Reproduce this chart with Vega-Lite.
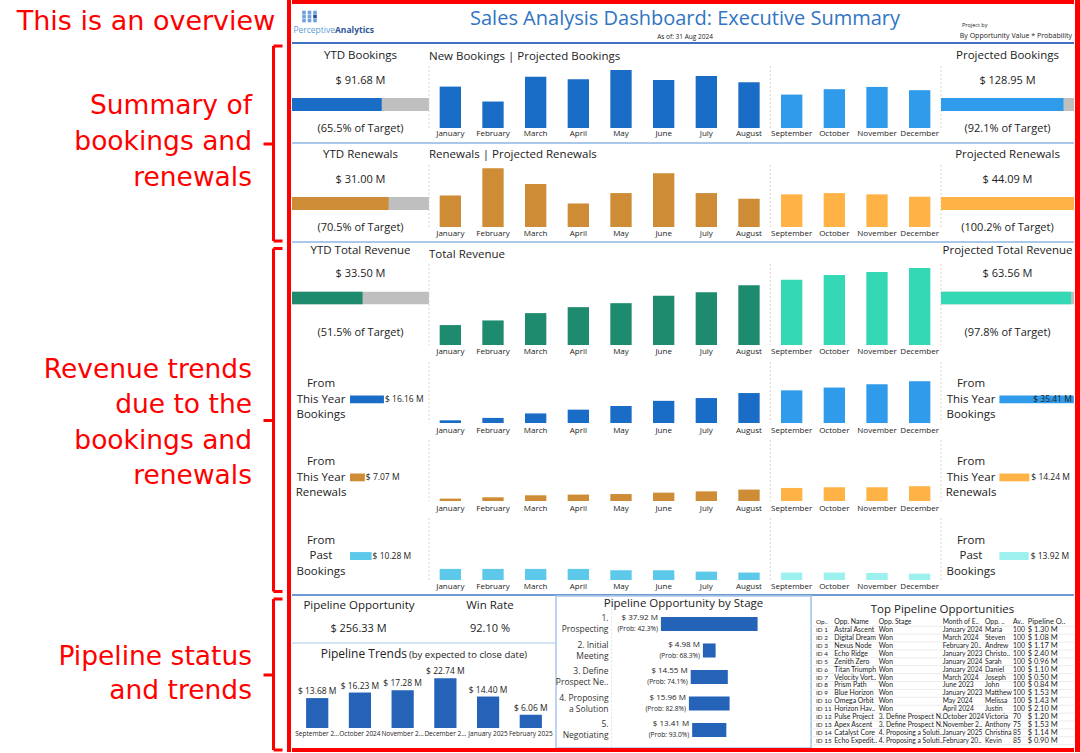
{
"$schema":"https://vega.github.io/schema/vega-lite/v6.json",
"padding":0,
"background":"white",
"datasets":{
 "monthly":[
  {"month":"January","period":"Actual","bookings":10.21,"renewals":3.19,"revenue":2.10,"revBookings":0.35,"revRenewals":0.31,"revPast":1.43},
  {"month":"February","period":"Actual","bookings":6.53,"renewals":5.94,"revenue":2.59,"revBookings":0.66,"revRenewals":0.48,"revPast":1.43},
  {"month":"March","period":"Actual","bookings":12.66,"renewals":4.34,"revenue":3.36,"revBookings":1.24,"revRenewals":0.74,"revPast":1.43},
  {"month":"April","period":"Actual","bookings":12.02,"renewals":2.38,"revenue":3.99,"revBookings":1.73,"revRenewals":0.83,"revPast":1.43},
  {"month":"May","period":"Actual","bookings":14.30,"renewals":3.43,"revenue":4.41,"revBookings":2.20,"revRenewals":0.90,"revPast":1.26},
  {"month":"June","period":"Actual","bookings":11.85,"renewals":5.43,"revenue":5.18,"revBookings":2.87,"revRenewals":1.08,"revPast":1.26},
  {"month":"July","period":"Actual","bookings":12.83,"renewals":3.43,"revenue":5.57,"revBookings":3.23,"revRenewals":1.25,"revPast":1.08},
  {"month":"August","period":"Actual","bookings":11.28,"renewals":2.86,"revenue":6.30,"revBookings":3.88,"revRenewals":1.48,"revPast":0.96},
  {"month":"September","period":"Projected","bookings":8.24,"renewals":3.30,"revenue":6.88,"revBookings":4.23,"revRenewals":1.69,"revPast":0.96},
  {"month":"October","period":"Projected","bookings":9.57,"renewals":3.43,"revenue":7.37,"revBookings":4.59,"revRenewals":1.78,"revPast":0.96},
  {"month":"November","period":"Projected","bookings":10.13,"renewals":3.30,"revenue":7.69,"revBookings":5.02,"revRenewals":1.78,"revPast":0.90},
  {"month":"December","period":"Projected","bookings":9.33,"renewals":3.06,"revenue":8.12,"revBookings":5.41,"revRenewals":1.92,"revPast":0.82}
 ]
},
"spacing":0,
"hconcat":[
 {"vconcat":[
   {"width":287,"height":40,"data":{"values":[{"note":"This is an overview"}]},"mark":{"type":"text","font":"DejaVu Sans","fontSize":27,"color":"#FF0000","dx":2.5,"dy":2},"encoding":{"text":{"field":"note"}}},
   {"width":287,"height":195,"data":{"values":[{"note":"Summary of\nbookings and\nrenewals"}]},"layer":[
     {"mark":{"type":"text","font":"DejaVu Sans","fontSize":26.5,"color":"#FF0000","align":"right","lineBreak":"\n","lineHeight":35.8,"dx":108.5,"dy":-36.8},"encoding":{"text":{"field":"note"}}},
     {"mark":{"type":"point","opacity":0},"encoding":{"y":{"datum":0.5,"type":"quantitative","scale":{"domain":[0,1],"nice":false},"axis":{"orient":"right","offset":-14,"values":[0,0.5,1],"labels":false,"title":null,"grid":false,"domain":true,"domainColor":"#FF0000","domainWidth":3,"ticks":true,"tickColor":"#FF0000","tickWidth":3,"tickSize":{"condition":{"test":"datum.value === 0.5","value":-10},"value":9}}}}}
   ]},
   {"width":287,"height":343,"data":{"values":[{"note":"Revenue trends\ndue to the\nbookings and\nrenewals"}]},"layer":[
     {"mark":{"type":"text","font":"DejaVu Sans","fontSize":26.5,"color":"#FF0000","align":"right","lineBreak":"\n","lineHeight":35.5,"dx":108.5,"dy":-50},"encoding":{"text":{"field":"note"}}},
     {"mark":{"type":"point","opacity":0},"encoding":{"y":{"datum":0.5,"type":"quantitative","scale":{"domain":[0,1],"nice":false},"axis":{"orient":"right","offset":-14,"values":[0,0.5,1],"labels":false,"title":null,"grid":false,"domain":true,"domainColor":"#FF0000","domainWidth":3,"ticks":true,"tickColor":"#FF0000","tickWidth":3,"tickSize":{"condition":{"test":"datum.value === 0.5","value":-10},"value":9}}}}}
   ]},
   {"width":287,"height":151,"data":{"values":[{"note":"Pipeline status\nand trends"}]},"layer":[
     {"mark":{"type":"text","font":"DejaVu Sans","fontSize":26.5,"color":"#FF0000","align":"right","lineBreak":"\n","lineHeight":34,"dx":108.5,"dy":-17},"encoding":{"text":{"field":"note"}}},
     {"mark":{"type":"point","opacity":0},"encoding":{"y":{"datum":0.5,"type":"quantitative","scale":{"domain":[0,1],"nice":false},"axis":{"orient":"right","offset":-14,"values":[0,0.5,1],"labels":false,"title":null,"grid":false,"domain":true,"domainColor":"#FF0000","domainWidth":3,"ticks":true,"tickColor":"#FF0000","tickWidth":3,"tickSize":{"condition":{"test":"datum.value === 0.5","value":-10},"value":9}}}}}
   ]}
  ],"spacing":3.5},
 {"width":4,"height":752,"view":{"fill":"#FF0000"},"data":{"values":[]},"mark":"point"},
 {"concat":[
   {"width":137,"height":4,"view":{"fill":"#FF0000"},"data":{"values":[]},"mark":"point"},
   {"width":512,"height":4,"view":{"fill":"#FF0000"},"data":{"values":[]},"mark":"point"},
   {"width":133,"height":4,"view":{"fill":"#FF0000"},"data":{"values":[]},"mark":"point"},

   {"width":137,"height":38,"layer":[
     {"data":{"values":[{"r":0,"c":0},{"r":0,"c":1},{"r":0,"c":2},{"r":1,"c":0},{"r":1,"c":1},{"r":1,"c":2},{"r":2,"c":0},{"r":2,"c":1},{"r":2,"c":2}]},
      "mark":{"type":"square","size":13,"filled":true,"opacity":1},
      "encoding":{"x":{"field":"c","type":"quantitative","title":null,"scale":{"domain":[-2.18,22.73],"nice":false,"zero":false},"axis":null},
                  "y":{"field":"r","type":"quantitative","title":null,"scale":{"domain":[-2.125,7.375],"nice":false,"zero":false,"reverse":true},"axis":null},
                  "color":{"condition":{"test":"datum.r === 1 && datum.c === 2","value":"#1F4E9A"},"value":"#6FA0DC"}}},
     {"data":{"values":[{"a":"Perceptive","b":"Analytics"}]},"layer":[
       {"mark":{"type":"text","align":"right","dx":-25.5,"dy":7,"fontSize":8.5,"color":"#5B9BD5"},"encoding":{"text":{"field":"a"}}},
       {"mark":{"type":"text","align":"left","dx":-25.5,"dy":7,"fontSize":8.5,"fontWeight":"bold","color":"#2F5597"},"encoding":{"text":{"field":"b"}}}
     ]}
   ]},
   {"width":512,"height":38,"data":{"values":[{"title":"Sales Analysis Dashboard: Executive Summary","asof":"As of: 31 Aug 2024"}]},"layer":[
     {"mark":{"type":"text","dy":-4,"fontSize":20,"color":"#2F75C4"},"encoding":{"text":{"field":"title"}}},
     {"mark":{"type":"text","dy":13.5,"fontSize":6.5},"encoding":{"text":{"field":"asof"}}}
   ]},
   {"width":133,"height":38,"data":{"values":[{"p":"Project by","b":"By Opportunity Value * Probability"}]},"layer":[
     {"mark":{"type":"text","align":"left","dx":-45.5,"dy":2,"fontSize":5.5},"encoding":{"text":{"field":"p"}}},
     {"mark":{"type":"text","align":"right","dx":64.5,"dy":12.5,"fontSize":7},"encoding":{"text":{"field":"b"}}}
   ]},

   {"width":137,"height":2,"view":{"fill":"#3F72C0"},"data":{"values":[]},"mark":"point"},
   {"width":512,"height":2,"view":{"fill":"#3F72C0"},"data":{"values":[]},"mark":"point"},
   {"width":133,"height":2,"view":{"fill":"#3F72C0"},"data":{"values":[]},"mark":"point"},

   {"width":0,"height":22,"data":{"values":[]},"mark":"point"},
   {"width":0,"height":22,"data":{"values":[]},"mark":"point"},
   {"width":0,"height":22,"data":{"values":[]},"mark":"point"},

   {"width":137,"height":62,"data":{"values":[{"label":"YTD Bookings","amount":"$ 91.68 M","pct":65.5,"pctLabel":"(65.5% of Target)"}]},"layer":[
     {"mark":{"type":"bar","color":"#BFBFBF"},"encoding":{"x":{"datum":100,"type":"quantitative","scale":{"domain":[0,100],"nice":false,"clamp":true},"axis":null},"y":{"datum":"bar","type":"nominal","scale":{"paddingInner":0.469,"paddingOuter":1,"align":0.653},"axis":null}}},
     {"mark":{"type":"bar","color":"#1A6DC6"},"encoding":{"x":{"field":"pct","type":"quantitative"},"y":{"datum":"bar","type":"nominal"}}},
     {"mark":{"type":"text","dy":-41,"fontSize":11.5},"encoding":{"text":{"field":"label"}}},
     {"mark":{"type":"text","dy":-16,"fontSize":11},"encoding":{"text":{"field":"amount"}}},
     {"mark":{"type":"text","dy":32,"fontSize":11},"encoding":{"text":{"field":"pctLabel"}}}
   ]},
   {"width":512,"height":62,"title":{"text":"New Bookings | Projected Bookings","anchor":"start","frame":"group","baseline":"middle","offset":-3,"fontSize":11.5},"data":{"name":"monthly"},"layer":[
     {"mark":{"type":"bar","width":{"band":0.5}},"encoding":{
       "x":{"field":"month","type":"ordinal","title":null,"scale":{"domain":["January","February","March","April","May","June","July","August","September","October","November","December"],"paddingInner":0,"paddingOuter":0},"axis":{"labelFontSize":8,"labelPadding":1}},
       "y":{"field":"bookings","type":"quantitative","title":null,"scale":{"domain":[0,15.29],"nice":false},"axis":null},
       "color":{"condition":{"test":"datum.period === 'Actual'","value":"#1A6DC6"},"value":"#2F9BEA"}}},
     {"data":{"values":[{"month":"January"},{"month":"September"}]},"mark":{"type":"rule","strokeDash":[2,2],"color":"#DCD3C6"},"encoding":{"x":{"field":"month","type":"ordinal","title":null,"bandPosition":0}}},
     {"data":{"values":[{"month":"December"}]},"mark":{"type":"rule","strokeDash":[2,2],"color":"#DCD3C6"},"encoding":{"x":{"field":"month","type":"ordinal","title":null,"bandPosition":1}}}
   ]},
   {"width":133,"height":62,"data":{"values":[{"label":"Projected Bookings","amount":"$ 128.95 M","pct":92.1,"pctLabel":"(92.1% of Target)"}]},"layer":[
     {"mark":{"type":"bar","color":"#BFBFBF"},"encoding":{"x":{"datum":100,"type":"quantitative","scale":{"domain":[0,100],"nice":false,"clamp":true},"axis":null},"y":{"datum":"bar","type":"nominal","scale":{"paddingInner":0.469,"paddingOuter":1,"align":0.653},"axis":null}}},
     {"mark":{"type":"bar","color":"#2F9BEA"},"encoding":{"x":{"field":"pct","type":"quantitative"},"y":{"datum":"bar","type":"nominal"}}},
     {"mark":{"type":"text","dy":-41,"fontSize":11.5},"encoding":{"text":{"field":"label"}}},
     {"mark":{"type":"text","dy":-16,"fontSize":11},"encoding":{"text":{"field":"amount"}}},
     {"mark":{"type":"text","dy":32,"fontSize":11},"encoding":{"text":{"field":"pctLabel"}}}
   ]},

   {"width":0,"height":14,"data":{"values":[]},"mark":"point"},
   {"width":0,"height":14,"data":{"values":[]},"mark":"point"},
   {"width":0,"height":14,"data":{"values":[]},"mark":"point"},

   {"width":137,"height":2,"view":{"fill":"#A9C8EA"},"data":{"values":[]},"mark":"point"},
   {"width":512,"height":2,"view":{"fill":"#A9C8EA"},"data":{"values":[]},"mark":"point"},
   {"width":133,"height":2,"view":{"fill":"#A9C8EA"},"data":{"values":[]},"mark":"point"},

   {"width":0,"height":21,"data":{"values":[]},"mark":"point"},
   {"width":0,"height":21,"data":{"values":[]},"mark":"point"},
   {"width":0,"height":21,"data":{"values":[]},"mark":"point"},

   {"width":137,"height":62,"data":{"values":[{"label":"YTD Renewals","amount":"$ 31.00 M","pct":70.5,"pctLabel":"(70.5% of Target)"}]},"layer":[
     {"mark":{"type":"bar","color":"#BFBFBF"},"encoding":{"x":{"datum":100,"type":"quantitative","scale":{"domain":[0,100],"nice":false,"clamp":true},"axis":null},"y":{"datum":"bar","type":"nominal","scale":{"paddingInner":0.469,"paddingOuter":1,"align":0.653},"axis":null}}},
     {"mark":{"type":"bar","color":"#CD8C35"},"encoding":{"x":{"field":"pct","type":"quantitative"},"y":{"datum":"bar","type":"nominal"}}},
     {"mark":{"type":"text","dy":-41,"fontSize":11.5},"encoding":{"text":{"field":"label"}}},
     {"mark":{"type":"text","dy":-16,"fontSize":11},"encoding":{"text":{"field":"amount"}}},
     {"mark":{"type":"text","dy":32,"fontSize":11},"encoding":{"text":{"field":"pctLabel"}}}
   ]},
   {"width":512,"height":62,"title":{"text":"Renewals | Projected Renewals","anchor":"start","frame":"group","baseline":"middle","offset":-2,"fontSize":11.5},"data":{"name":"monthly"},"layer":[
     {"mark":{"type":"bar","width":{"band":0.5}},"encoding":{
       "x":{"field":"month","type":"ordinal","title":null,"scale":{"domain":["January","February","March","April","May","June","July","August","September","October","November","December"],"paddingInner":0,"paddingOuter":0},"axis":{"labelFontSize":8,"labelPadding":2.5}},
       "y":{"field":"renewals","type":"quantitative","title":null,"scale":{"domain":[0,6.27],"nice":false},"axis":null},
       "color":{"condition":{"test":"datum.period === 'Actual'","value":"#CD8C35"},"value":"#FFB347"}}},
     {"data":{"values":[{"month":"January"},{"month":"September"}]},"mark":{"type":"rule","strokeDash":[2,2],"color":"#DCD3C6"},"encoding":{"x":{"field":"month","type":"ordinal","title":null,"bandPosition":0}}},
     {"data":{"values":[{"month":"December"}]},"mark":{"type":"rule","strokeDash":[2,2],"color":"#DCD3C6"},"encoding":{"x":{"field":"month","type":"ordinal","title":null,"bandPosition":1}}}
   ]},
   {"width":133,"height":62,"data":{"values":[{"label":"Projected Renewals","amount":"$ 44.09 M","pct":100.2,"pctLabel":"(100.2% of Target)"}]},"layer":[
     {"mark":{"type":"bar","color":"#BFBFBF"},"encoding":{"x":{"datum":100,"type":"quantitative","scale":{"domain":[0,100],"nice":false,"clamp":true},"axis":null},"y":{"datum":"bar","type":"nominal","scale":{"paddingInner":0.469,"paddingOuter":1,"align":0.653},"axis":null}}},
     {"mark":{"type":"bar","color":"#FFB347"},"encoding":{"x":{"field":"pct","type":"quantitative"},"y":{"datum":"bar","type":"nominal"}}},
     {"mark":{"type":"text","dy":-41,"fontSize":11.5},"encoding":{"text":{"field":"label"}}},
     {"mark":{"type":"text","dy":-16,"fontSize":11},"encoding":{"text":{"field":"amount"}}},
     {"mark":{"type":"text","dy":32,"fontSize":11},"encoding":{"text":{"field":"pctLabel"}}}
   ]},

   {"width":0,"height":14,"data":{"values":[]},"mark":"point"},
   {"width":0,"height":14,"data":{"values":[]},"mark":"point"},
   {"width":0,"height":14,"data":{"values":[]},"mark":"point"},

   {"width":137,"height":2,"view":{"fill":"#A9C8EA"},"data":{"values":[]},"mark":"point"},
   {"width":512,"height":2,"view":{"fill":"#A9C8EA"},"data":{"values":[]},"mark":"point"},
   {"width":133,"height":2,"view":{"fill":"#A9C8EA"},"data":{"values":[]},"mark":"point"},

   {"width":0,"height":21,"data":{"values":[]},"mark":"point"},
   {"width":0,"height":21,"data":{"values":[]},"mark":"point"},
   {"width":0,"height":21,"data":{"values":[]},"mark":"point"},

   {"width":137,"height":81,"data":{"values":[{"label":"YTD Total Revenue","amount":"$ 33.50 M","pct":51.5,"pctLabel":"(51.5% of Target)"}]},"layer":[
     {"mark":{"type":"bar","color":"#BFBFBF"},"encoding":{"x":{"datum":100,"type":"quantitative","scale":{"domain":[0,100],"nice":false,"clamp":true},"axis":null},"y":{"datum":"bar","type":"nominal","scale":{"paddingInner":0.632,"paddingOuter":1,"align":0.405},"axis":null}}},
     {"mark":{"type":"bar","color":"#1E8A6E"},"encoding":{"x":{"field":"pct","type":"quantitative"},"y":{"datum":"bar","type":"nominal"}}},
     {"mark":{"type":"text","dy":-53.5,"fontSize":11.5},"encoding":{"text":{"field":"label"}}},
     {"mark":{"type":"text","dy":-30.2,"fontSize":11},"encoding":{"text":{"field":"amount"}}},
     {"mark":{"type":"text","dy":28.2,"fontSize":11},"encoding":{"text":{"field":"pctLabel"}}}
   ]},
   {"width":512,"height":81,"title":{"text":"Total Revenue","anchor":"start","frame":"group","baseline":"middle","offset":-3,"fontSize":11.5},"data":{"name":"monthly"},"layer":[
     {"mark":{"type":"bar","width":{"band":0.5}},"encoding":{
       "x":{"field":"month","type":"ordinal","title":null,"scale":{"domain":["January","February","March","April","May","June","July","August","September","October","November","December"],"paddingInner":0,"paddingOuter":0},"axis":{"labelFontSize":8,"labelPadding":2.5}},
       "y":{"field":"revenue","type":"quantitative","title":null,"scale":{"domain":[0,8.54],"nice":false},"axis":null},
       "color":{"condition":{"test":"datum.period === 'Actual'","value":"#1E8A6E"},"value":"#34D8B4"}}},
     {"data":{"values":[{"month":"January"},{"month":"September"}]},"mark":{"type":"rule","strokeDash":[2,2],"color":"#DCD3C6"},"encoding":{"x":{"field":"month","type":"ordinal","title":null,"bandPosition":0}}},
     {"data":{"values":[{"month":"December"}]},"mark":{"type":"rule","strokeDash":[2,2],"color":"#DCD3C6"},"encoding":{"x":{"field":"month","type":"ordinal","title":null,"bandPosition":1}}}
   ]},
   {"width":133,"height":81,"data":{"values":[{"label":"Projected Total Revenue","amount":"$ 63.56 M","pct":97.8,"pctLabel":"(97.8% of Target)"}]},"layer":[
     {"mark":{"type":"bar","color":"#BFBFBF"},"encoding":{"x":{"datum":100,"type":"quantitative","scale":{"domain":[0,100],"nice":false,"clamp":true},"axis":null},"y":{"datum":"bar","type":"nominal","scale":{"paddingInner":0.632,"paddingOuter":1,"align":0.405},"axis":null}}},
     {"mark":{"type":"bar","color":"#34D8B4"},"encoding":{"x":{"field":"pct","type":"quantitative"},"y":{"datum":"bar","type":"nominal"}}},
     {"mark":{"type":"text","dy":-53.5,"fontSize":11.5},"encoding":{"text":{"field":"label"}}},
     {"mark":{"type":"text","dy":-30.2,"fontSize":11},"encoding":{"text":{"field":"amount"}}},
     {"mark":{"type":"text","dy":28.2,"fontSize":11},"encoding":{"text":{"field":"pctLabel"}}}
   ]},

   {"width":0,"height":17,"data":{"values":[]},"mark":"point"},
   {"width":0,"height":17,"data":{"values":[]},"mark":"point"},
   {"width":0,"height":17,"data":{"values":[]},"mark":"point"},

   {"width":137,"height":61,"data":{"values":[{"line":"From\nThis Year\nBookings","value":16.16,"amount":"$ 16.16 M"}]},"layer":[
     {"mark":{"type":"text","lineBreak":"\n","lineHeight":15.5,"fontSize":11.5,"dx":-39.5,"dy":-8.5},"encoding":{"text":{"field":"line"}}},
     {"mark":{"type":"bar","color":"#1A6DC6"},"encoding":{"x":{"field":"value","type":"quantitative","scale":{"domain":[-27.6,37.6],"nice":false,"zero":false},"axis":null},"y":{"datum":"bar","type":"nominal","scale":{"paddingInner":0.707,"paddingOuter":1,"align":0.63},"axis":null}}},
     {"mark":{"type":"text","align":"left","dx":1,"fontSize":8.5},"encoding":{"x":{"field":"value","type":"quantitative"},"y":{"datum":"bar","type":"nominal"},"text":{"field":"amount"}}}
   ]},
   {"width":512,"height":61,"data":{"name":"monthly"},"layer":[
     {"mark":{"type":"bar","width":{"band":0.5}},"encoding":{
       "x":{"field":"month","type":"ordinal","title":null,"scale":{"domain":["January","February","March","April","May","June","July","August","September","October","November","December"],"paddingInner":0,"paddingOuter":0},"axis":{"labelFontSize":8,"labelPadding":3}},
       "y":{"field":"revBookings","type":"quantitative","title":null,"scale":{"domain":[0,7.9],"nice":false},"axis":null},
       "color":{"condition":{"test":"datum.period === 'Actual'","value":"#1A6DC6"},"value":"#2F9BEA"}}},
     {"data":{"values":[{"month":"January"},{"month":"September"}]},"mark":{"type":"rule","strokeDash":[2,2],"color":"#DCD3C6"},"encoding":{"x":{"field":"month","type":"ordinal","title":null,"bandPosition":0}}},
     {"data":{"values":[{"month":"December"}]},"mark":{"type":"rule","strokeDash":[2,2],"color":"#DCD3C6"},"encoding":{"x":{"field":"month","type":"ordinal","title":null,"bandPosition":1}}}
   ]},
   {"width":133,"height":61,"data":{"values":[{"line":"From\nThis Year\nBookings","value":35.41,"amount":"$ 35.41 M"}]},"layer":[
     {"mark":{"type":"text","lineBreak":"\n","lineHeight":15.5,"fontSize":11.5,"dx":-36.5,"dy":-8.5},"encoding":{"text":{"field":"line"}}},
     {"mark":{"type":"bar","color":"#2F9BEA"},"encoding":{"x":{"field":"value","type":"quantitative","scale":{"domain":[-27.8,35.5],"nice":false,"zero":false},"axis":null},"y":{"datum":"bar","type":"nominal","scale":{"paddingInner":0.707,"paddingOuter":1,"align":0.63},"axis":null}}},
     {"mark":{"type":"text","align":"right","dx":-2,"fontSize":8.5},"encoding":{"x":{"field":"value","type":"quantitative"},"y":{"datum":"bar","type":"nominal"},"text":{"field":"amount"}}}
   ]},

   {"width":0,"height":17,"data":{"values":[]},"mark":"point"},
   {"width":0,"height":17,"data":{"values":[]},"mark":"point"},
   {"width":0,"height":17,"data":{"values":[]},"mark":"point"},

   {"width":137,"height":61,"data":{"values":[{"line":"From\nThis Year\nRenewals","value":7.07,"amount":"$ 7.07 M"}]},"layer":[
     {"mark":{"type":"text","lineBreak":"\n","lineHeight":15.5,"fontSize":11.5,"dx":-39.5,"dy":-8.1},"encoding":{"text":{"field":"line"}}},
     {"mark":{"type":"bar","color":"#CD8C35"},"encoding":{"x":{"field":"value","type":"quantitative","scale":{"domain":[-27.6,37.6],"nice":false,"zero":false},"axis":null},"y":{"datum":"bar","type":"nominal","scale":{"paddingInner":0.707,"paddingOuter":1,"align":0.63},"axis":null}}},
     {"mark":{"type":"text","align":"left","dx":1,"fontSize":8.5},"encoding":{"x":{"field":"value","type":"quantitative"},"y":{"datum":"bar","type":"nominal"},"text":{"field":"amount"}}}
   ]},
   {"width":512,"height":61,"data":{"name":"monthly"},"layer":[
     {"mark":{"type":"bar","width":{"band":0.5}},"encoding":{
       "x":{"field":"month","type":"ordinal","title":null,"scale":{"domain":["January","February","March","April","May","June","July","August","September","October","November","December"],"paddingInner":0,"paddingOuter":0},"axis":{"labelFontSize":8,"labelPadding":3}},
       "y":{"field":"revRenewals","type":"quantitative","title":null,"scale":{"domain":[0,7.9],"nice":false},"axis":null},
       "color":{"condition":{"test":"datum.period === 'Actual'","value":"#CD8C35"},"value":"#FFB347"}}},
     {"data":{"values":[{"month":"January"},{"month":"September"}]},"mark":{"type":"rule","strokeDash":[2,2],"color":"#DCD3C6"},"encoding":{"x":{"field":"month","type":"ordinal","title":null,"bandPosition":0}}},
     {"data":{"values":[{"month":"December"}]},"mark":{"type":"rule","strokeDash":[2,2],"color":"#DCD3C6"},"encoding":{"x":{"field":"month","type":"ordinal","title":null,"bandPosition":1}}}
   ]},
   {"width":133,"height":61,"data":{"values":[{"line":"From\nThis Year\nRenewals","value":14.24,"amount":"$ 14.24 M"}]},"layer":[
     {"mark":{"type":"text","lineBreak":"\n","lineHeight":15.5,"fontSize":11.5,"dx":-36.5,"dy":-8.1},"encoding":{"text":{"field":"line"}}},
     {"mark":{"type":"bar","color":"#FFB347"},"encoding":{"x":{"field":"value","type":"quantitative","scale":{"domain":[-27.8,35.5],"nice":false,"zero":false},"axis":null},"y":{"datum":"bar","type":"nominal","scale":{"paddingInner":0.707,"paddingOuter":1,"align":0.63},"axis":null}}},
     {"mark":{"type":"text","align":"left","dx":2,"fontSize":8.5},"encoding":{"x":{"field":"value","type":"quantitative"},"y":{"datum":"bar","type":"nominal"},"text":{"field":"amount"}}}
   ]},

   {"width":0,"height":17,"data":{"values":[]},"mark":"point"},
   {"width":0,"height":17,"data":{"values":[]},"mark":"point"},
   {"width":0,"height":17,"data":{"values":[]},"mark":"point"},

   {"width":137,"height":62,"data":{"values":[{"line":"From\nPast\nBookings","value":10.28,"amount":"$ 10.28 M"}]},"layer":[
     {"mark":{"type":"text","lineBreak":"\n","lineHeight":15.5,"fontSize":11.5,"dx":-39.5,"dy":-8.3},"encoding":{"text":{"field":"line"}}},
     {"mark":{"type":"bar","color":"#5CC8EA"},"encoding":{"x":{"field":"value","type":"quantitative","scale":{"domain":[-27.6,37.6],"nice":false,"zero":false},"axis":null},"y":{"datum":"bar","type":"nominal","scale":{"paddingInner":0.707,"paddingOuter":1,"align":0.63},"axis":null}}},
     {"mark":{"type":"text","align":"left","dx":1,"fontSize":8.5},"encoding":{"x":{"field":"value","type":"quantitative"},"y":{"datum":"bar","type":"nominal"},"text":{"field":"amount"}}}
   ]},
   {"width":512,"height":62,"data":{"name":"monthly"},"layer":[
     {"mark":{"type":"bar","width":{"band":0.5}},"encoding":{
       "x":{"field":"month","type":"ordinal","title":null,"scale":{"domain":["January","February","March","April","May","June","July","August","September","October","November","December"],"paddingInner":0,"paddingOuter":0},"axis":{"labelFontSize":8,"labelPadding":2.5}},
       "y":{"field":"revPast","type":"quantitative","title":null,"scale":{"domain":[0,8.0],"nice":false},"axis":null},
       "color":{"condition":{"test":"datum.period === 'Actual'","value":"#5CC8EA"},"value":"#9CF0EE"}}},
     {"data":{"values":[{"month":"January"},{"month":"September"}]},"mark":{"type":"rule","strokeDash":[2,2],"color":"#DCD3C6"},"encoding":{"x":{"field":"month","type":"ordinal","title":null,"bandPosition":0}}},
     {"data":{"values":[{"month":"December"}]},"mark":{"type":"rule","strokeDash":[2,2],"color":"#DCD3C6"},"encoding":{"x":{"field":"month","type":"ordinal","title":null,"bandPosition":1}}}
   ]},
   {"width":133,"height":62,"data":{"values":[{"line":"From\nPast\nBookings","value":13.92,"amount":"$ 13.92 M"}]},"layer":[
     {"mark":{"type":"text","lineBreak":"\n","lineHeight":15.5,"fontSize":11.5,"dx":-36.5,"dy":-8.3},"encoding":{"text":{"field":"line"}}},
     {"mark":{"type":"bar","color":"#9CF0EE"},"encoding":{"x":{"field":"value","type":"quantitative","scale":{"domain":[-27.8,35.5],"nice":false,"zero":false},"axis":null},"y":{"datum":"bar","type":"nominal","scale":{"paddingInner":0.707,"paddingOuter":1,"align":0.63},"axis":null}}},
     {"mark":{"type":"text","align":"left","dx":2,"fontSize":8.5},"encoding":{"x":{"field":"value","type":"quantitative"},"y":{"datum":"bar","type":"nominal"},"text":{"field":"amount"}}}
   ]},

   {"width":0,"height":14,"data":{"values":[]},"mark":"point"},
   {"width":0,"height":14,"data":{"values":[]},"mark":"point"},
   {"width":0,"height":14,"data":{"values":[]},"mark":"point"},

   {"width":137,"height":2,"view":{"fill":"#6E9BD6"},"data":{"values":[]},"mark":"point"},
   {"width":512,"height":2,"view":{"fill":"#6E9BD6"},"data":{"values":[]},"mark":"point"},
   {"width":133,"height":2,"view":{"fill":"#6E9BD6"},"data":{"values":[]},"mark":"point"},

   {"hconcat":[
     {"width":264,"height":132,"layer":[
       {"data":{"values":[{"a":"Pipeline Opportunity","b":"Win Rate","av":"$ 256.33 M","bv":"92.10 %","t1":"Pipeline Trends","t2":"(by expected to close date)"}]},"layer":[
         {"mark":{"type":"text","dx":-65,"dy":-56,"fontSize":11.5},"encoding":{"text":{"field":"a"}}},
         {"mark":{"type":"text","dx":66,"dy":-56,"fontSize":11.5},"encoding":{"text":{"field":"b"}}},
         {"mark":{"type":"text","dx":-65.5,"dy":-32.7,"fontSize":11},"encoding":{"text":{"field":"av"}}},
         {"mark":{"type":"text","dx":66,"dy":-32.7,"fontSize":11},"encoding":{"text":{"field":"bv"}}},
         {"mark":{"type":"text","align":"right","dx":-17,"dy":-8,"fontSize":12},"encoding":{"text":{"field":"t1"}}},
         {"mark":{"type":"text","align":"left","dx":-15,"dy":-7.5,"fontSize":9.5},"encoding":{"text":{"field":"t2"}}}
       ]},
       {"data":{"values":[
          {"month":"September 2024","value":13.68,"label":"$ 13.68 M"},
          {"month":"October 2024","value":16.23,"label":"$ 16.23 M"},
          {"month":"November 2024","value":17.28,"label":"$ 17.28 M"},
          {"month":"December 2024","value":22.74,"label":"$ 22.74 M"},
          {"month":"January 2025","value":14.40,"label":"$ 14.40 M"},
          {"month":"February 2025","value":6.06,"label":"$ 6.06 M"}]},
        "encoding":{
          "x":{"field":"month","type":"ordinal","sort":null,"title":null,"scale":{"paddingInner":0.48,"paddingOuter":0.33},"axis":{"labelFontSize":6.5,"labelLimit":44,"labelPadding":2}},
          "y":{"field":"value","type":"quantitative","title":null,"scale":{"domain":[0,60.4],"nice":false},"axis":null}},
        "layer":[
          {"mark":{"type":"bar","color":"#2563B8"}},
          {"mark":{"type":"text","dy":-7,"fontSize":8.5},"encoding":{"text":{"field":"label"}}}
        ]},
       {"data":{"values":[{}]},"mark":{"type":"rule","color":"#A9C8EA"},"encoding":{"y":{"datum":38.9,"type":"quantitative"}}}
     ]},
     {"width":255,"height":152,"view":{"stroke":"#A9C8EA","strokeWidth":1.5},
      "title":{"text":"Pipeline Opportunity by Stage","anchor":"middle","frame":"group","baseline":"middle","offset":-19,"fontSize":11.5},
      "data":{"values":[
        {"stage":"1.\nProspecting","value":37.92,"label":"$ 37.92 M","prob":"(Prob: 42.3%)"},
        {"stage":"2. Initial\nMeeting","value":4.98,"label":"$ 4.98 M","prob":"(Prob: 68.3%)"},
        {"stage":"3. Define\nProspect Ne..","value":14.55,"label":"$ 14.55 M","prob":"(Prob: 74.1%)"},
        {"stage":"4. Proposing\na Solution","value":15.96,"label":"$ 15.96 M","prob":"(Prob: 82.8%)"},
        {"stage":"5.\nNegotiating","value":13.41,"label":"$ 13.41 M","prob":"(Prob: 93.0%)"}]},
      "transform":[{"stack":"value","groupby":["stage"],"offset":"center","as":["x0","x1"]}],
      "encoding":{"y":{"field":"stage","type":"nominal","sort":null,"title":null,"scale":{"paddingInner":0.47,"paddingOuter":0.603,"align":0.656},
         "axis":{"orient":"left","offset":-55,"labelExpr":"split(datum.label, '\\n')","labelPadding":3,"labelOffset":-5.5,"labelFontSize":8.5,"labelLineHeight":11,"labelLimit":0,"labelColor":"#333333","domain":true,"domainColor":"#E3E3E3","domainDash":[2,2]}}},
      "layer":[
        {"mark":{"type":"bar","color":"#2563B8"},"encoding":{"x":{"field":"x0","type":"quantitative","title":null,"scale":{"domain":[-41.14,58.86],"nice":false,"zero":false},"axis":null},"x2":{"field":"x1"}}},
        {"mark":{"type":"text","align":"right","dx":-3,"dy":-5.7,"fontSize":8},"encoding":{"x":{"field":"x0","type":"quantitative"},"text":{"field":"label"}}},
        {"mark":{"type":"text","align":"right","dx":-3,"dy":5.3,"fontSize":6.6},"encoding":{"x":{"field":"x0","type":"quantitative"},"text":{"field":"prob"}}}
      ]},
     {"width":263,"height":152,
      "title":{"text":"Top Pipeline Opportunities","anchor":"middle","frame":"group","baseline":"middle","offset":-25,"fontSize":11.5},
      "data":{"values":[
        {"id":"Op..","name":"Opp. Name","stage":"Opp. Stage","month":"Month of E..","owner":"Opp. ..","prob":"Av..","pipe":"Pipeline O.."},
        {"id":"ID 1","name":"Astral Ascent","stage":"Won","month":"January 2024","owner":"Maria","prob":"100","pipe":"$ 1.30 M"},
        {"id":"ID 2","name":"Digital Dream","stage":"Won","month":"March 2024","owner":"Steven","prob":"100","pipe":"$ 1.08 M"},
        {"id":"ID 3","name":"Nexus Node","stage":"Won","month":"February 20..","owner":"Andrew","prob":"100","pipe":"$ 1.17 M"},
        {"id":"ID 4","name":"Echo Ridge","stage":"Won","month":"January 2023","owner":"Christo..","prob":"100","pipe":"$ 2.40 M"},
        {"id":"ID 5","name":"Zenith Zero","stage":"Won","month":"January 2024","owner":"Sarah","prob":"100","pipe":"$ 0.96 M"},
        {"id":"ID 6","name":"Titan Triumph","stage":"Won","month":"January 2024","owner":"Daniel","prob":"100","pipe":"$ 1.10 M"},
        {"id":"ID 7","name":"Velocity Vort..","stage":"Won","month":"March 2024","owner":"Joseph","prob":"100","pipe":"$ 0.50 M"},
        {"id":"ID 8","name":"Prism Path","stage":"Won","month":"June 2023","owner":"John","prob":"100","pipe":"$ 0.84 M"},
        {"id":"ID 9","name":"Blue Horizon","stage":"Won","month":"January 2023","owner":"Matthew","prob":"100","pipe":"$ 1.53 M"},
        {"id":"ID 10","name":"Omega Orbit","stage":"Won","month":"May 2024","owner":"Melissa","prob":"100","pipe":"$ 1.43 M"},
        {"id":"ID 11","name":"Horizon Hav..","stage":"Won","month":"April 2024","owner":"Justin","prob":"100","pipe":"$ 2.10 M"},
        {"id":"ID 12","name":"Pulse Project","stage":"3. Define Prospect N..","month":"October 2024","owner":"Victoria","prob":"70","pipe":"$ 1.20 M"},
        {"id":"ID 13","name":"Apex Ascent","stage":"3. Define Prospect N..","month":"November 2..","owner":"Anthony","prob":"75","pipe":"$ 1.53 M"},
        {"id":"ID 14","name":"Catalyst Core","stage":"4. Proposing a Soluti..","month":"January 2025","owner":"Christina","prob":"85","pipe":"$ 1.14 M"},
        {"id":"ID 15","name":"Echo Expedit..","stage":"4. Proposing a Soluti..","month":"February 20..","owner":"Kevin","prob":"85","pipe":"$ 0.90 M"}]},
      "encoding":{"y":{"field":"id","type":"nominal","sort":null,"title":null,"scale":{"domain":["pad1","pad2","Op..","ID 1","ID 2","ID 3","ID 4","ID 5","ID 6","ID 7","ID 8","ID 9","ID 10","ID 11","ID 12","ID 13","ID 14","ID 15"],"paddingInner":0,"paddingOuter":0.63,"align":0.66},"axis":{"domain":true,"domainColor":"#A9C8EA","labels":false,"ticks":false}}},
      "layer":[
        {"mark":{"type":"rule","color":"#ECECEC"},"encoding":{"y":{"field":"id","type":"nominal","sort":null,"title":null,"bandPosition":1}}},
        {"mark":{"type":"text","align":"left","dx":-126.5,"font":"Lato","fontSize":6.4},"encoding":{"text":{"field":"id"}}},
        {"mark":{"type":"text","align":"left","dx":-108.2,"font":"Lato","fontSize":6.9},"encoding":{"text":{"field":"name"}}},
        {"mark":{"type":"text","align":"left","dx":-63.8,"font":"Lato","fontSize":6.8},"encoding":{"text":{"field":"stage"}}},
        {"mark":{"type":"text","align":"left","dx":0.2,"font":"Lato","fontSize":6.7},"encoding":{"text":{"field":"month"}}},
        {"mark":{"type":"text","align":"left","dx":42.5,"font":"Lato","fontSize":6.8},"encoding":{"text":{"field":"owner"}}},
        {"mark":{"type":"text","align":"left","dx":70.5,"font":"Lato","fontSize":6.8},"encoding":{"text":{"field":"prob"}}},
        {"mark":{"type":"text","align":"left","dx":85.2,"font":"Lato","fontSize":7.5},"encoding":{"text":{"field":"pipe"}}}
      ]}
    ],"spacing":0,"bounds":"flush"},
   {"width":0,"height":152,"data":{"values":[]},"mark":"point"},
   {"width":0,"height":152,"data":{"values":[]},"mark":"point"},

   {"width":137,"height":4,"view":{"fill":"#FF0000"},"data":{"values":[]},"mark":"point"},
   {"width":512,"height":4,"view":{"fill":"#FF0000"},"data":{"values":[]},"mark":"point"},
   {"width":133,"height":4,"view":{"fill":"#FF0000"},"data":{"values":[]},"mark":"point"}
  ],"columns":3,"spacing":0,"bounds":"flush","align":"each"},
 {"width":6,"height":752,"view":{"fill":"#FF0000"},"data":{"values":[]},"mark":"point"}
],
"config":{
 "view":{"stroke":null},
 "font":"Open Sans",
 "text":{"font":"Open Sans","color":"#222222"},
 "title":{"font":"Open Sans","fontWeight":"normal","color":"#222222"},
 "axis":{"labelFont":"Open Sans","labelColor":"#222222","ticks":false,"tickSize":0,"domain":false,"grid":false,"labelAngle":0,"labelOverlap":false},
 "concat":{"spacing":0}
}
}
